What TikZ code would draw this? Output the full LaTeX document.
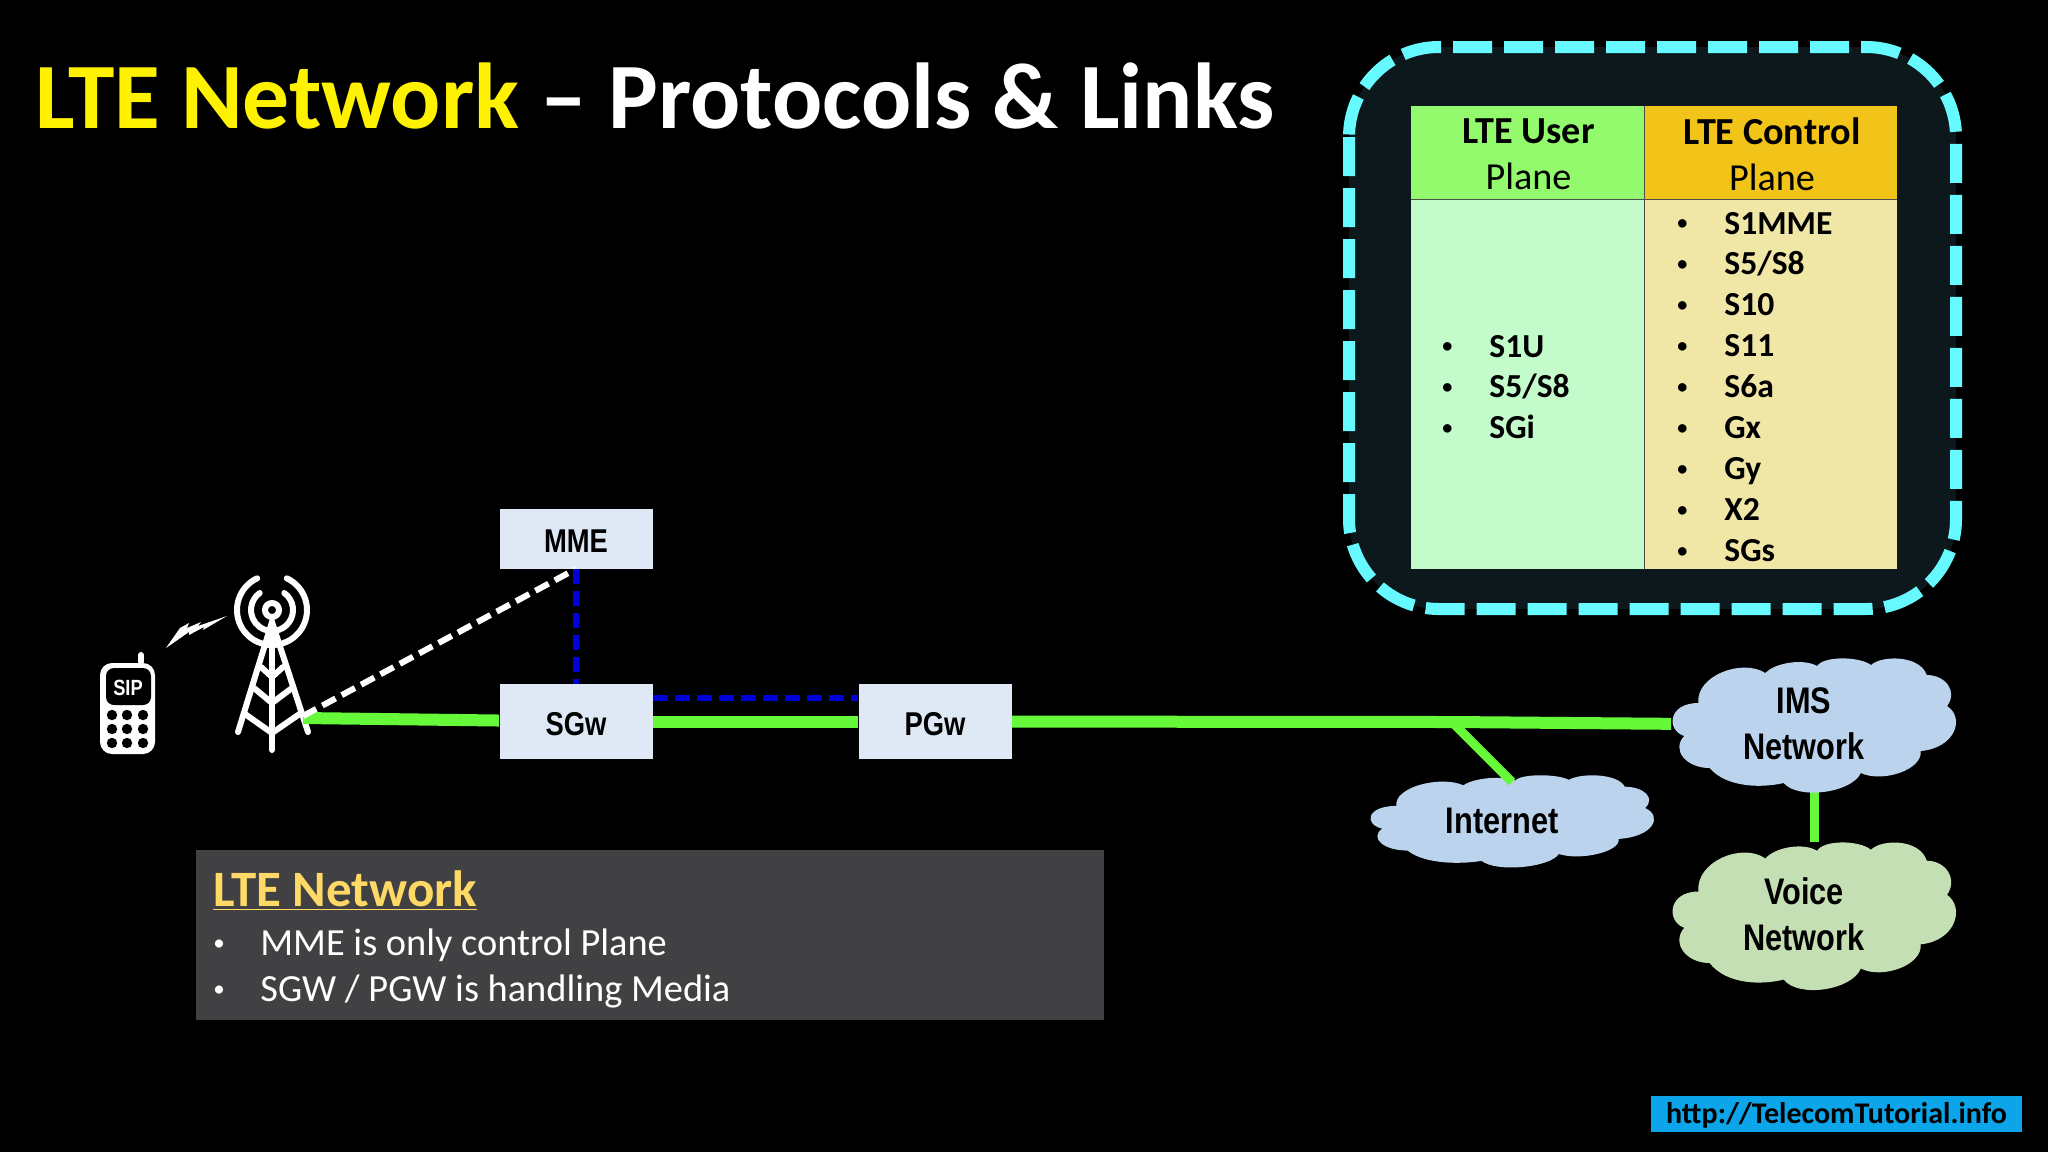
\documentclass[tikz,border=0pt]{standalone}
\usepackage{fontspec}
\setmainfont{Carlito}
\newfontfamily\narrowfont[FakeStretch=0.83]{Liberation Sans}
\definecolor{boxblue}{HTML}{DEE9F5}
\definecolor{cloudblue}{HTML}{BBD3EC}
\definecolor{cloudgreen}{HTML}{C5DFB4}
\definecolor{media}{HTML}{66F93A}
\definecolor{panel}{HTML}{0C181C}
\definecolor{frame}{HTML}{66F9FF}
\definecolor{userhead}{HTML}{92FA6C}
\definecolor{ctrlhead}{HTML}{F2C318}
\definecolor{userbody}{HTML}{C3FBCB}
\definecolor{ctrlbody}{HTML}{F0E6A5}
\definecolor{notegray}{HTML}{414042}
\definecolor{notegold}{HTML}{FFD966}
\definecolor{urlblue}{HTML}{0CA5E9}
\newcommand\dotmark[1]{\makebox[#1][l]{\raisebox{.12em}{\scalebox{.6}{\textbullet}}}}
\begin{document}
\begin{tikzpicture}[x=.5pt,y=-.5pt]
\tikzset{
    netbox/.style={fill=boxblue, minimum width=76.5pt, minimum height=30pt, inner sep=0pt,
        text height=14pt, text depth=0pt,
        font=\narrowfont\bfseries\fontsize{16.5}{20}\selectfont},
    blobbox/.style={minimum width=142.5pt, inner sep=0pt},
    blobtext/.style={align=center, inner sep=0pt,
        font=\narrowfont\bfseries\fontsize{18.5}{23}\selectfont},
    link/.style={media, line width=6pt},
    thinlink/.style={media, line width=4.5pt},
    ctrl/.style={blue!85!black, line width=3pt, dash pattern=on 7.5pt off 3.5pt},
    sig/.style={white, line width=3pt, dash pattern=on 7.5pt off 3.5pt},
    cell/.style={inner sep=0pt, minimum width=#1},
    item/.style={anchor=base west, inner sep=0pt, font=\bfseries\fontsize{16.8}{20}\selectfont},
    head/.style={align=center, inner sep=0pt, font=\fontsize{19.1}{23}\selectfont},
    note/.style={anchor=base west, inner sep=0pt, white, font=\fontsize{19.2}{22}\selectfont},
    icon/.style={white, line width=3pt, line cap=round}}
\def\rowgap{40.9}
\def\blobpath{(27,45) .. controls (24,18) and (70,0) .. (93,15)
    .. controls (102,5) and (130,0) .. (144,8)
    .. controls (150,-2) and (185,-2) .. (197,7)
    .. controls (208,-3) and (245,-3) .. (252,17)
    .. controls (270,17) and (283,33) .. (272,48)
    .. controls (290,60) and (280,90) .. (246,93)
    .. controls (248,112) and (208,125) .. (187,115)
    .. controls (178,135) and (125,142) .. (111,125)
    .. controls (90,130) and (55,130) .. (38,110)
    .. controls (15,110) and (0,92) .. (13,78)
    .. controls (-5,72) and (-3,45) .. (27,45) -- cycle}

\useasboundingbox (0,0) rectangle (2048,1152);
\fill[black] (0,0) rectangle (2048,1152);

\node[anchor=base west, inner sep=0pt, white, font=\bfseries\fontsize{46.8}{50}\selectfont] (title) at (35,128)
    {\textcolor{yellow}{LTE Network} -- Protocols \& Links};

% plane table
\draw[frame, fill=panel, line width=6pt, rounded corners=45pt, dash pattern=on 19.5pt off 6pt]
    (1349,47) rectangle (1956,609);
\node[cell=117pt, minimum height=46.5pt, fill=userhead] (uhead) at (1528,152.5) {};
\node[cell=126pt, minimum height=46.5pt, fill=ctrlhead] (chead) at (1771,152.5) {};
\node[cell=117pt, minimum height=185pt, fill=userbody] (ubody) at (1528,384) {};
\node[cell=126pt, minimum height=185pt, fill=ctrlbody] (cbody) at (1771,384) {};
\draw[black!70, line width=.5pt] (uhead.south west) -- (chead.south east);
\draw[black!70, line width=.5pt] (chead.north west) -- (cbody.south west);
\node[head] (uheadtxt) at (1528.5,154.5) {\textbf{LTE User}\\Plane};
\node[head] (cheadtxt) at (1772,154.5) {\textbf{LTE Control}\\Plane};

\foreach \i/\t in {0/S1U,1/S5\slash S8,2/SGi}
    \node[item] (uitem\i) at (1442,{357+\i*\rowgap}) {\dotmark{23.5pt}\t};
\foreach \i/\t in {0/S1MME,1/S5\slash S8,2/S10,3/S11,4/S6a,5/Gx,6/Gy,7/X2,8/SGs}
    \node[item] (citem\i) at (1677,{234+\i*\rowgap}) {\dotmark{23.5pt}\t};

% phone
\fill[white, rounded corners=6pt] (100,663) rectangle (155,754);
\draw[white, line width=3pt, line cap=round] (141,662) -- (141,655);
\fill[black, rounded corners=4pt] (106,668) rectangle (151,705);
\node[white, inner sep=0pt, font=\narrowfont\bfseries\fontsize{11}{13}\selectfont] (sip) at (128,688) {SIP};
\foreach \x in {112,127,143}
    \foreach \y in {715,729,743}
        \fill[black] (\x,\y) circle (2.6pt);

% radio spark
\fill[white] (166,648) -- (180,628) -- (189,623) -- (187,628) -- (201,622) -- (198,626) -- (227,616)
    -- (203,630) -- (204,627) -- (189,635) -- (189,632) -- cycle;

% tower
\def\tx{272}
\def\ty{610}
\draw[icon] (\tx,\ty) circle (3.5pt);
\draw[icon] (\tx,\ty) ++(-54:21) arc (-54:234:21);
\draw[icon] (\tx,\ty) ++(-65:35) arc (-65:245:35);
\draw[icon] (\tx,622) -- (238,732);
\draw[icon] (\tx,622) -- (308,732);
\draw[icon] (\tx,622) -- (\tx,750);
\draw[icon] (245,714) -- (\tx,733) -- (301,713);
\draw[icon] (254,688) -- (\tx,703) -- (292,688);
\draw[icon] (261,667) -- (\tx,677) -- (283,667);
\coordinate (enb) at (303,718);
\coordinate (enbsig) at (303,716);

% core nodes
\node[netbox] (mme) at (576,538.5) {MME};
\node[netbox, minimum height=37.5pt] (sgw) at (576,721.5) {SGw};
\node[netbox, minimum height=37.5pt] (pgw) at (935,721.5) {PGw};

\node[blobbox, minimum height=67pt] (ims) at (1814,725) {};
\node[blobbox, minimum height=73.5pt] (voice) at (1814,915.5) {};
\node[blobbox, minimum height=46pt] (inet) at (1512,820.5) {};

% links
\coordinate (tee) at (1452,722);
\coordinate (inettop) at (1512,782);
\draw[link] (enb) -- (sgw);
\draw[link] (sgw) -- (pgw);
\draw[link] (pgw) -- (tee) -- (ims);
\draw[thinlink] (ims) -- (voice);

% clouds
\fill[cloudblue, shift={(1671,658)}, xscale=1.015] \blobpath;
\fill[cloudgreen, shift={(1671,842)}, xscale=1.015, yscale=1.1] \blobpath;
\fill[cloudblue, shift={(1369,775)}, xscale=1.015, yscale=.687] \blobpath;
\node[blobtext] (imstxt) at (1804,724) {IMS\\Network};
\node[blobtext] (voicetxt) at (1804,914) {Voice\\Network};
\node[blobtext] (inettxt) at (1502,821) {Internet};

\draw[thinlink] (tee) -- (inettop);
\draw[sig] (enbsig) -- (mme.south);
\draw[ctrl] (mme) -- (sgw);
\draw[ctrl] ([yshift=12pt]sgw.east) -- ([yshift=12pt]pgw.west);

% note
\node[fill=notegray, minimum width=454pt, minimum height=85pt, inner sep=0pt] (notebox) at (650,935) {};
\node[anchor=base west, inner sep=0pt, notegold, font=\bfseries\fontsize{25.5}{27}\selectfont] (notehead) at (213,906)
    {\underline{LTE Network}};
\node[note] (note1) at (213,955) {\dotmark{23.5pt}MME is only control Plane};
\node[note] (note2) at (213,1001) {\dotmark{23.5pt}SGW / PGW is handling Media};

\node[fill=urlblue, minimum width=185.5pt, minimum height=18pt, inner sep=0pt, text=black,
    text height=13pt, text depth=3.5pt,
    font=\bfseries\fontsize{15}{18}\selectfont] (url) at (1836.5,1114) {http://TelecomTutorial.info};
\end{tikzpicture}
\end{document}
